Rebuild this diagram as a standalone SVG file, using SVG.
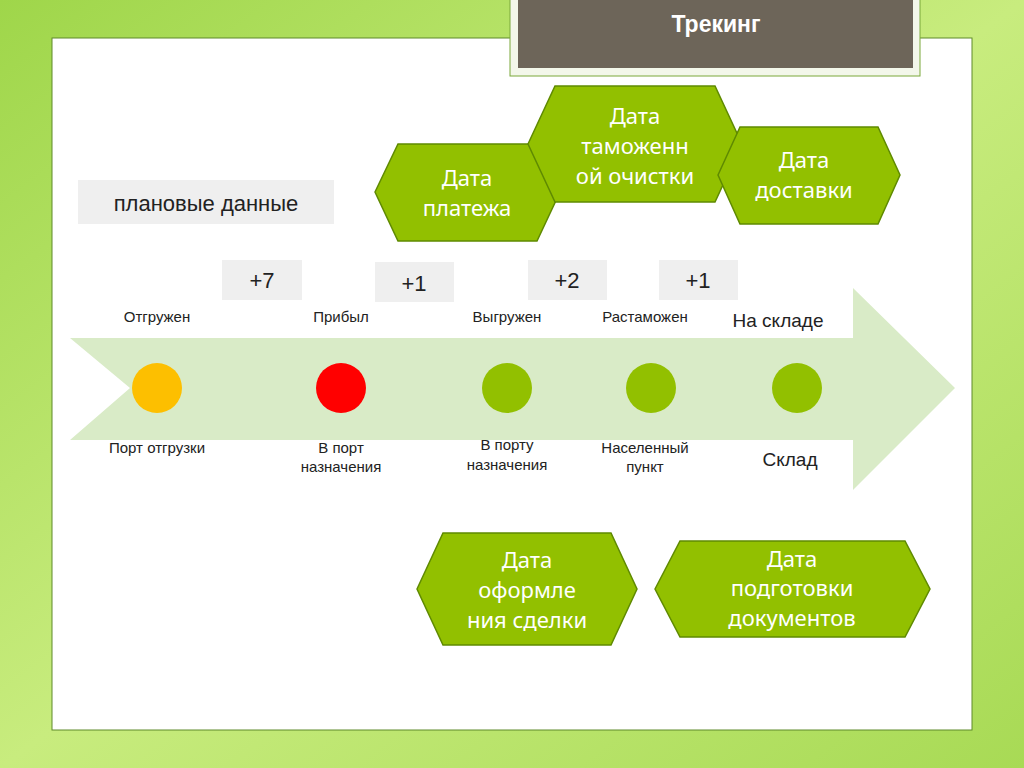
<svg xmlns="http://www.w3.org/2000/svg" width="1024" height="768" viewBox="0 0 1024 768">
<defs>
<linearGradient id="bg" x1="0" y1="0" x2="1" y2="1"><stop offset="0" stop-color="#9fd64a"/><stop offset="0.5" stop-color="#c8ec7e"/><stop offset="1" stop-color="#a8da55"/></linearGradient>
</defs>
<style>
.hex{fill:#92c000;stroke:#5f8a00;stroke-width:1.5}
.ht{font-family:"Noto Sans","Liberation Sans",sans-serif;font-size:22px;fill:#fff;text-anchor:middle}
.box{fill:#efefef}
.bt{font-family:"Liberation Sans",sans-serif;font-size:22px;fill:#222;text-anchor:middle}
.lt{font-family:"Liberation Sans",sans-serif;font-size:15px;fill:#222;text-anchor:middle}
.lg{font-size:19px}
</style>
<rect width="1024" height="768" fill="url(#bg)"/>
<rect x="52" y="38" width="920" height="692" fill="#fff" stroke="#5f8a2a" stroke-width="1"/>
<g id="header">
<rect x="510" y="-2" width="410" height="78" fill="#f3f7ea" stroke="#7aa83a" stroke-width="1"/>
<rect x="518" y="-2" width="395" height="70" fill="#6d6559"/>
<text x="716" y="32" font-family="Liberation Sans,sans-serif" font-weight="bold" font-size="23" fill="#fff" text-anchor="middle">Трекинг</text>
</g>
<g id="arrow"><polygon points="70,338 853,338 853,288 955,388 853,490 853,440 70,440 130,388" fill="#d9ebc7"/></g>
<g id="hex-payment"><polygon class="hex" points="375,192 398,144 537,144 560,192 537,241 398,241"/><text class="ht" x="467" y="186">Дата</text><text class="ht" x="467" y="216">платежа</text></g>
<g id="hex-customs"><polygon class="hex" points="528,144 555,86 715,86 742,144 715,202 555,202"/><text class="ht" x="635" y="124">Дата</text><text class="ht" x="635" y="154">таможенн</text><text class="ht" x="635" y="184">ой очистки</text></g>
<g id="hex-delivery"><polygon class="hex" points="718,175 740,127 878,127 900,175 878,224 740,224"/><text class="ht" x="804" y="168">Дата</text><text class="ht" x="804" y="198">доставки</text></g>
<g id="hex-deal"><polygon class="hex" points="417,589 443,533 611,533 637,589 611,645 443,645"/><text class="ht" x="527" y="568">Дата</text><text class="ht" x="527" y="598">оформле</text><text class="ht" x="527" y="628">ния сделки</text></g>
<g id="hex-docs"><polygon class="hex" points="655,589 680,541 905,541 930,589 905,637 680,637"/><text class="ht" x="792" y="567">Дата</text><text class="ht" x="792" y="596">подготовки</text><text class="ht" x="792" y="626">документов</text></g>
<g id="plan"><rect class="box" x="78" y="180" width="256" height="44"/><text class="bt" x="206" y="211">плановые данные</text></g>
<g id="d1"><rect class="box" x="222" y="260" width="80" height="40"/><text class="bt" x="262" y="288">+7</text></g>
<g id="d2"><rect class="box" x="375" y="262" width="79" height="40"/><text class="bt" x="414" y="291">+1</text></g>
<g id="d3"><rect class="box" x="528" y="260" width="79" height="40"/><text class="bt" x="567" y="288">+2</text></g>
<g id="d4"><rect class="box" x="659" y="260" width="79" height="40"/><text class="bt" x="698" y="288">+1</text></g>
<g id="s1"><circle cx="157" cy="388" r="25" fill="#fdbf00"/><text class="lt" x="157" y="322">Отгружен</text><text class="lt" x="157" y="453">Порт отгрузки</text></g>
<g id="s2"><circle cx="341" cy="388" r="25" fill="#ff0000"/><text class="lt" x="341" y="322">Прибыл</text><text class="lt" x="341" y="453">В порт</text><text class="lt" x="341" y="472">назначения</text></g>
<g id="s3"><circle cx="507" cy="388" r="25" fill="#92c000"/><text class="lt" x="507" y="322">Выгружен</text><text class="lt" x="507" y="450">В порту</text><text class="lt" x="507" y="470">назначения</text></g>
<g id="s4"><circle cx="651" cy="388" r="25" fill="#92c000"/><text class="lt" x="645" y="322">Растаможен</text><text class="lt" x="645" y="453">Населенный</text><text class="lt" x="645" y="472">пункт</text></g>
<g id="s5"><circle cx="797" cy="388" r="25" fill="#92c000"/><text class="lt lg" x="778" y="327">На складе</text><text class="lt lg" x="790" y="466">Склад</text></g>
<g id="connectors"/>
</svg>
